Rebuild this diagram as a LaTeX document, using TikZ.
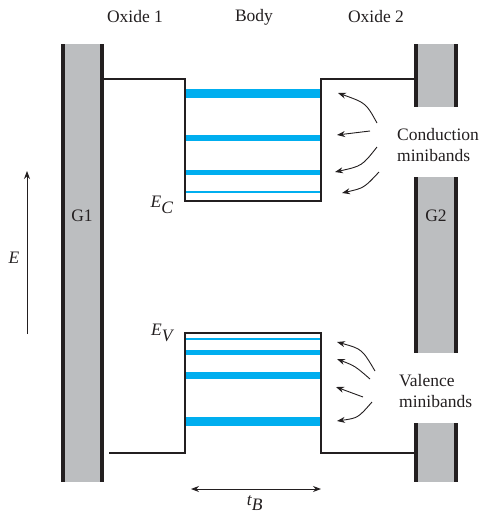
\documentclass[tikz,border=0pt]{standalone}
\usepackage{fontspec}
\setmainfont{Liberation Serif}
\usetikzlibrary{arrows.meta}
\definecolor{gatefill}{HTML}{BCBEC0}
\definecolor{bandblue}{HTML}{00AEEF}
\definecolor{ink}{HTML}{231F20}
\tikzset{
  lbl/.style={font=\fontsize{17.5}{21}\selectfont, text=ink, inner sep=0pt},
  gateedge/.style={line width=4pt, draw=ink},
  bandline/.style={line width=2.2pt, draw=ink},
  miniband/.style={draw=bandblue},
  arr/.style={draw=ink, line width=0.9pt, -{Stealth[length=8pt,width=6pt]}},
  dimarr/.style={draw=ink, line width=0.9pt, {Stealth[length=8pt,width=6pt]}-{Stealth[length=8pt,width=6pt]}}
}
\begin{document}
\begin{tikzpicture}[x=1pt,y=-1pt]
\useasboundingbox (0,0) rectangle (492,517);
% gates
\fill[gatefill] (62,44) rectangle (103,482);
\draw[gateedge] (62.5,44) -- (62.5,482);
\draw[gateedge] (102.3,44) -- (102.3,482);
\foreach \ya/\yb in {44/107, 177/353, 423/482}{
  \fill[gatefill] (416,\ya) rectangle (456,\yb);
  \draw[gateedge] (416.3,\ya) -- (416.3,\yb);
  \draw[gateedge] (455.5,\ya) -- (455.5,\yb);
}
% conduction minibands
\draw[miniband, line width=9pt] (186,93.5) -- (320,93.5);
\draw[miniband, line width=6pt] (186,138) -- (320,138);
\draw[miniband, line width=5pt] (186,172.5) -- (320,172.5);
\draw[miniband, line width=2.5pt] (186,192) -- (320,192);
% valence minibands
\draw[miniband, line width=2.7pt] (186,339) -- (320,339);
\draw[miniband, line width=5pt] (186,352) -- (320,352);
\draw[miniband, line width=7.5pt] (186,375.5) -- (320,375.5);
\draw[miniband, line width=9pt] (186,421) -- (320,421);
% band edges
\coordinate (g1c) at (104,79);
\coordinate (g2c) at (414,79);
\draw[bandline] (g1c) -- (185,79) -- (185,201) -- (321,201) -- (321,79) -- (g2c);
\coordinate (v1) at (109,453);
\coordinate (g2v) at (414,453);
\draw[bandline] (v1) -- (185,453) -- (185,333) -- (321,333) -- (321,453) -- (g2v);
% labels
\node[lbl] (ox1) at (135,17) {Oxide 1};
\node[lbl] (body) at (254,17) {Body};
\node[lbl] (ox2) at (376,17) {Oxide 2};
\node[lbl] (g1) at (82,216) {G1};
\node[lbl] (g2) at (436,216) {G2};
\node[lbl] (ec) at (162,205) {$\textit{E}_{\textit{C}}$};
\node[lbl] (ev) at (162,333) {$\textit{E}_{\textit{V}}$};
\node[lbl] (e) at (14,258) {\textit{E}};
\node[lbl, align=left, anchor=west] (cond) at (397,145) {Conduction\\minibands};
\node[lbl, align=left, anchor=west] (val) at (399,391) {Valence\\minibands};
\node[lbl] (tb) at (255,503) {$\textit{t}_{\textit{B}}$};
% energy axis
\coordinate (ea) at (27,334);
\coordinate (eb) at (27,171);
\draw[arr] (ea) -- (eb);
% thickness
\coordinate (ta) at (191,489);
\coordinate (tb2) at (321,489);
\draw[dimarr] (ta) -- (tb2);
% conduction arrows
\coordinate (cs1) at (377,123); \coordinate (ct1) at (338,93);
\coordinate (cs2) at (370,131); \coordinate (ct2) at (337,135);
\coordinate (cs3) at (377,147); \coordinate (ct3) at (335,172);
\coordinate (cs4) at (379,172); \coordinate (ct4) at (342,193);
\draw[arr] (cs1) .. controls (366,103) .. (ct1);
\draw[arr] (cs2) -- (ct2);
\draw[arr] (cs3) .. controls (362,166) .. (ct3);
\draw[arr] (cs4) .. controls (364,188) .. (ct4);
% valence arrows
\coordinate (vs1) at (375,371); \coordinate (vt1) at (337,342);
\coordinate (vs2) at (370,379); \coordinate (vt2) at (337,359);
\coordinate (vs3) at (363,397); \coordinate (vt3) at (336,387);
\coordinate (vs4) at (372,402); \coordinate (vt4) at (337,421);
\draw[arr] (vs1) .. controls (362,349) .. (vt1);
\draw[arr] (vs2) .. controls (355,366) .. (vt2);
\draw[arr] (vs3) -- (vt3);
\draw[arr] (vs4) .. controls (358,418) .. (vt4);
\end{tikzpicture}
\end{document}
